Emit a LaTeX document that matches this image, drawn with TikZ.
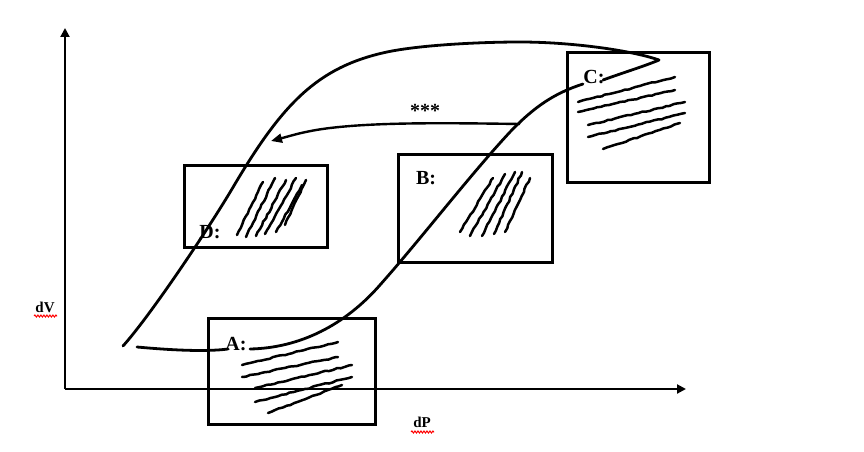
\documentclass[tikz,border=0pt]{standalone}
\usepackage{fontspec}
\setmainfont{Liberation Serif}
\usetikzlibrary{arrows.meta,decorations.pathmorphing}
\begin{document}
\begin{tikzpicture}[x=1pt,y=-1pt,
  lbl/.style={font=\fontsize{20}{20}\selectfont\bfseries,inner sep=0pt},
  axlbl/.style={font=\fontsize{15}{15}\selectfont\bfseries,inner sep=0pt},
  frame/.style={line width=3pt},
  curve/.style={line width=2.8pt,line cap=round,line join=round},
  hatch/.style={line width=2.5pt,line cap=round,line join=round,decorate,decoration={random steps,segment length=4pt,amplitude=0.6pt}},
  axis/.style={line width=2pt,-{Triangle[length=9pt,width=9pt]}},
  wavy/.style={red,line width=1pt,decorate,decoration={snake,amplitude=1pt,segment length=3pt}}]
\useasboundingbox (0,0) rectangle (864,452);
\pgfmathsetseed{7}
% axes
\coordinate (O) at (65,389);
\coordinate (Ytop) at (65,28);
\coordinate (Xend) at (686,389);
\draw[axis] (O) -- (Ytop);
\draw[axis] (O) -- (Xend);
% boxes
\draw[frame] (184,165) rectangle (327,247);
\draw[frame] (398,154) rectangle (552,262);
\draw[frame] (567,53) rectangle (709,182);
\draw[frame] (208,318) rectangle (375,424);
% labels
\node[lbl] (lD) at (210,232) {D:};
\node[lbl] (lB) at (426,178) {B:};
\node[lbl] (lC) at (594,77) {C:};
\node[lbl] (lA) at (236,344) {A:};
\node[axlbl] (dV) at (45,307) {dV};
\node[axlbl] (dP) at (422,422) {dP};
\draw[wavy] (34,316) -- (57,316);
\draw[wavy] (411,432) -- (434,432);
\node[font=\fontsize{20}{20}\selectfont\bfseries,inner sep=0pt] (stars) at (425,111) {***};
% curves
\coordinate (S1) at (123,346);
\coordinate (S2) at (137,347);
\coordinate (Cend) at (659,60);
\draw[curve] (S1) .. controls (150,316) and (207,231) .. (232,189)
  .. controls (282,104) and (317,67) .. (387,52)
  .. controls (420,45) and (480,42) .. (520,42)
  .. controls (570,42) and (630,50) .. (Cend);
\draw[curve] (S2) .. controls (170,350) and (205,352) .. (228,349);
\draw[curve] (250,349) .. controls (300,348) and (345,325) .. (380,285)
  .. controls (420,240) and (470,175) .. (510,132)
  .. controls (535,106) and (555,93) .. (583,84);
\draw[curve] (603,80) .. controls (625,72) and (645,66) .. (Cend);
% arrow ***
\coordinate (Astart) at (520,124);
\coordinate (Atip) at (271,141);
\draw[line width=2.4pt,-{Triangle[length=11pt,width=9pt]}] (Astart) .. controls (450,123) and (380,122) .. (330,128) .. controls (305,131) and (290,136) .. (Atip);
% hatching D
\foreach \a/\b/\c/\d in {237/235/263/182, 246/237/275/178, 256/236/286/180, 265/234/296/178, 276/232/302/185, 285/225/306/180}
  \draw[hatch] (\a,\b) -- (\c,\d);
% hatching B
\foreach \a/\b/\c/\d in {460/232/493/178, 470/236/505/174, 482/236/515/172, 494/234/522/172, 505/232/530/178}
  \draw[hatch] (\a,\b) -- (\c,\d);
% hatching C
\foreach \a/\b/\c/\d in {578/102/675/77, 578/112/675/90, 588/125/685/102, 588/137/685/113, 603/149/680/123}
  \draw[hatch] (\a,\b) -- (\c,\d);
% hatching A
\foreach \a/\b/\c/\d in {242/365/338/342, 242/377/338/357, 255/388/352/365, 255/402/352/377, 268/413/342/385}
  \draw[hatch] (\a,\b) -- (\c,\d);
\end{tikzpicture}
\end{document}
